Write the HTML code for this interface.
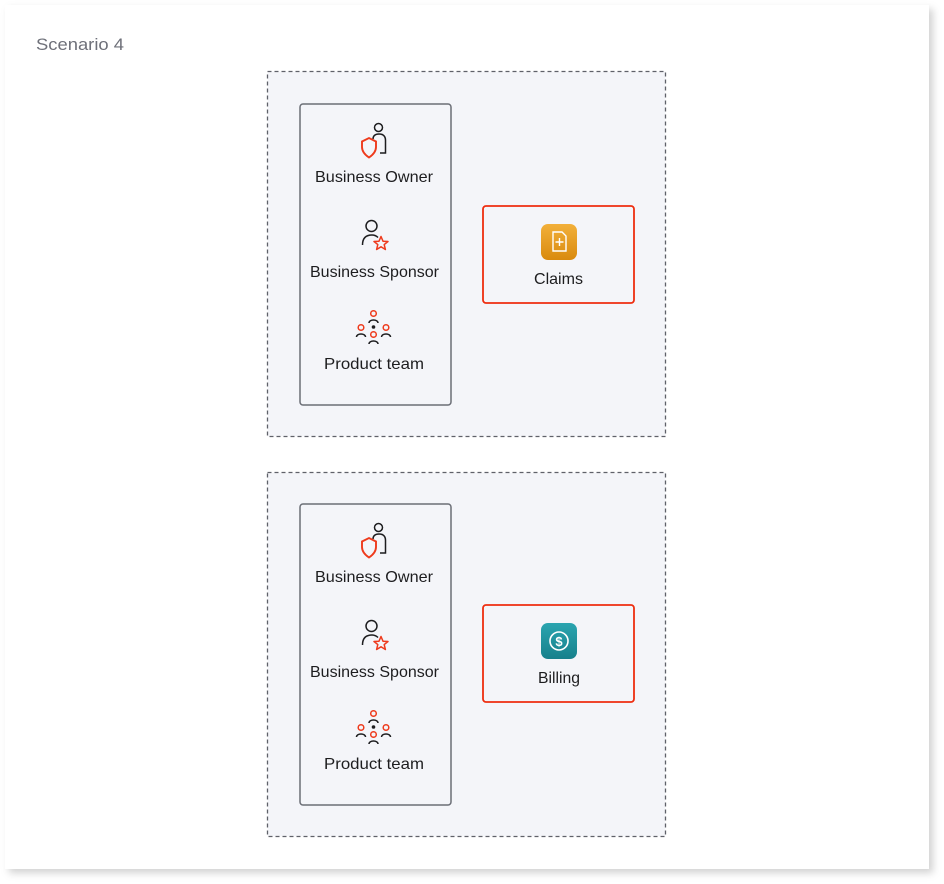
<!DOCTYPE html>
<html><head><meta charset="utf-8"><style>
html,body{margin:0;padding:0;background:#fff;width:944px;height:884px;overflow:hidden}
text{font-family:"Liberation Sans",sans-serif}
</style></head><body>
<svg width="944" height="884" viewBox="0 0 944 884" xmlns="http://www.w3.org/2000/svg">
<defs>
<filter id="sh" x="-5%" y="-5%" width="110%" height="110%"><feDropShadow dx="4" dy="4" stdDeviation="4" flood-color="#000" flood-opacity="0.18"/></filter>
<linearGradient id="gy" x1="0" y1="0" x2="0" y2="1"><stop offset="0" stop-color="#f2b03a"/><stop offset="1" stop-color="#d98a0e"/></linearGradient>
<linearGradient id="gt" x1="0" y1="0" x2="0" y2="1"><stop offset="0" stop-color="#2aa5b0"/><stop offset="1" stop-color="#17808c"/></linearGradient>
<g id="people">
  <rect x="300" y="104" width="151" height="301" rx="3" fill="#f4f5f9" stroke="#6b6e76" stroke-width="1.5"/>
  <circle cx="378.5" cy="127.5" r="4" fill="none" stroke="#1d1d1f" stroke-width="1.5"/>
  <path d="M373,139 C373,136 375,134 379,134 C383,134 385.5,136 385.5,140 V153 H380" fill="none" stroke="#1d1d1f" stroke-width="1.5"/>
  <path d="M362,141.5 L369,138 L376,141.5 V147 C376,152 372,155.5 369,157.5 C366,155.5 362,152 362,147 Z" fill="#f4f5f9" stroke="#ee3a1c" stroke-width="1.9"/>
  <text x="315" y="182" font-size="16" fill="#1d1d1f" textLength="118" lengthAdjust="spacingAndGlyphs">Business Owner</text>
  <circle cx="371.5" cy="226" r="5.5" fill="none" stroke="#1d1d1f" stroke-width="1.5"/>
  <path d="M362.5,245 C362.5,238 366,235 372,235 C374.5,235 376.5,236 378,237.5" fill="none" stroke="#1d1d1f" stroke-width="1.5"/>
  <path d="M381,236.5 L383,241.2 L388,241.5 L384.2,244.6 L385.4,249.5 L381,246.8 L376.6,249.5 L377.8,244.6 L374,241.5 L379,241.2 Z" fill="none" stroke="#ee3a1c" stroke-width="1.5" stroke-linejoin="round"/>
  <text x="310" y="277" font-size="16" fill="#1d1d1f" textLength="129" lengthAdjust="spacingAndGlyphs">Business Sponsor</text>
  <g fill="none" stroke-width="1.5">
    <circle cx="373.5" cy="313.5" r="2.8" stroke="#ee3a1c"/>
    <path d="M369,323 C369,319 378,319 378,323" stroke="#1d1d1f"/>
    <circle cx="361" cy="327.5" r="2.8" stroke="#ee3a1c"/>
    <path d="M356.5,337 C356.5,333 365.5,333 365.5,337" stroke="#1d1d1f"/>
    <circle cx="386" cy="327.5" r="2.8" stroke="#ee3a1c"/>
    <path d="M381.5,337 C381.5,333 390.5,333 390.5,337" stroke="#1d1d1f"/>
    <circle cx="373.5" cy="334.5" r="2.8" stroke="#ee3a1c"/>
    <path d="M369,344 C369,340 378,340 378,344" stroke="#1d1d1f"/>
  </g>
  <circle cx="373.5" cy="327" r="1.8" fill="#1d1d1f"/>
  <text x="324" y="369" font-size="16" fill="#1d1d1f" textLength="100" lengthAdjust="spacingAndGlyphs">Product team</text>
</g>
</defs>
<rect x="5" y="5" width="924" height="864" fill="#fff" filter="url(#sh)"/>
<text x="36" y="50" font-size="17" fill="#6e7079" textLength="88" lengthAdjust="spacingAndGlyphs">Scenario 4</text>

<rect x="267.5" y="71.5" width="398" height="365" fill="#f4f5f9" stroke="#5f6169" stroke-width="1.3" stroke-dasharray="4,3"/>
<use href="#people"/>
<rect x="483" y="206" width="151" height="97" rx="3" fill="#f4f5f9" stroke="#ee2e10" stroke-width="1.8"/>
<rect x="541" y="224" width="36" height="36" rx="7" fill="url(#gy)"/>
<path d="M553,232 H562 L566,236 V251 H553 Z" fill="none" stroke="#fff" stroke-width="1.4"/>
<path d="M559.5,238 V246 M555.5,242 H563.5" stroke="#fff" stroke-width="1.4"/>
<text x="534" y="284" font-size="16" fill="#1d1d1f" textLength="49" lengthAdjust="spacingAndGlyphs">Claims</text>

<rect x="267.5" y="472.5" width="398" height="364" fill="#f4f5f9" stroke="#5f6169" stroke-width="1.3" stroke-dasharray="4,3"/>
<use href="#people" transform="translate(0,400)"/>
<rect x="483" y="605" width="151" height="97" rx="3" fill="#f4f5f9" stroke="#ee2e10" stroke-width="1.8"/>
<rect x="541" y="623" width="36" height="36" rx="7" fill="url(#gt)"/>
<circle cx="559" cy="641" r="9" fill="none" stroke="#fff" stroke-width="1.6"/>
<text x="559" y="646" text-anchor="middle" font-size="13" fill="#fff" font-weight="bold">$</text>
<text x="538" y="683" font-size="16" fill="#1d1d1f" textLength="42" lengthAdjust="spacingAndGlyphs">Billing</text>
</svg>
</body></html>
